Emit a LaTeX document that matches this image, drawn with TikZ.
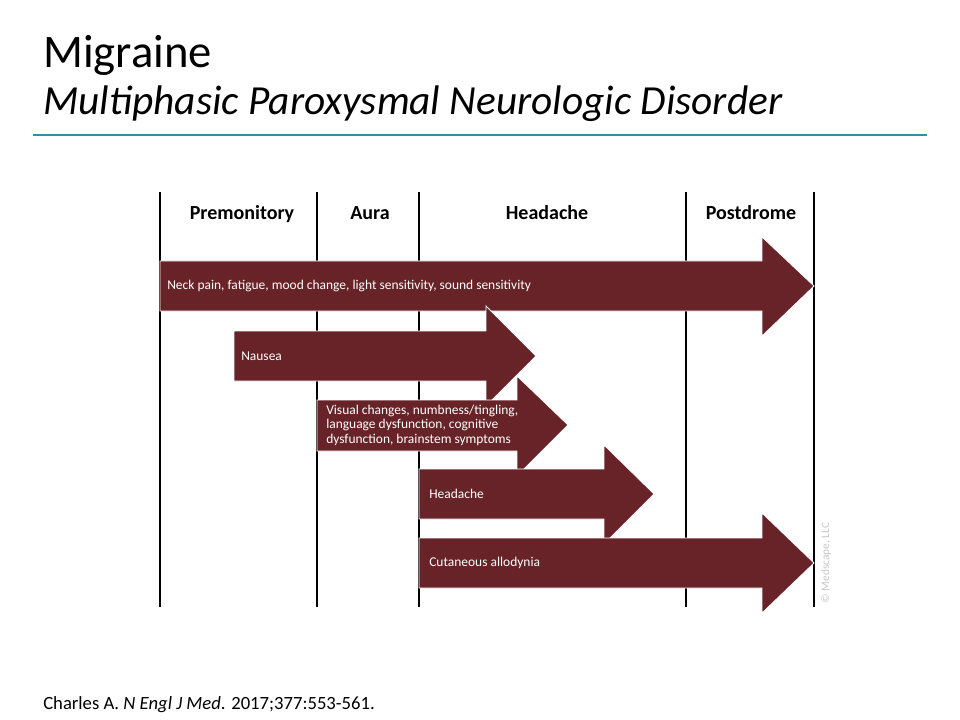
\documentclass[tikz,border=0pt]{standalone}
\usepackage{fontspec}
\setmainfont{Carlito}
\definecolor{maroon}{RGB}{103,35,39}
\definecolor{teal}{RGB}{56,142,160}
\tikzset{
  phasearrow/.style={fill=maroon,draw=white,line width=0.6pt},
  phaseline/.style={black,line width=1.4pt},
  phasehead/.style={anchor=base,inner sep=0pt,font=\bfseries\fontsize{15}{17}\selectfont},
  arrowtext/.style={white,anchor=west,inner sep=0pt,font=\fontsize{10.1}{10.9}\selectfont}
}
\begin{document}
\begin{tikzpicture}[x=0.75pt, y=-0.75pt]
\useasboundingbox (0,0) rectangle (960,720);

% Title
\node[anchor=base west,inner sep=0pt,font=\fontsize{35}{38}\selectfont] (title) at (43,68) {Migraine};
\node[anchor=base west,inner sep=0pt,font=\itshape\fontsize{31}{34}\selectfont] (subtitle) at (43,115) {Multiphasic Paroxysmal Neurologic Disorder};
\draw[teal,line width=1.5pt] (33,135) -- (927,135);

% Phase lines
\foreach \x in {160,317,419,686,814}
  \draw[phaseline] (\x,192) -- (\x,607);

% Phase names
\node[phasehead] (premonitory) at (242,220) {Premonitory};
\node[phasehead] (aura) at (370,220) {Aura};
\node[phasehead] (headache) at (547,220) {Headache};
\node[phasehead] (postdrome) at (751,220) {Postdrome};

% Arrows
\draw[phasearrow] (160,261) -- (762,261) -- (762,237) -- (814,286) -- (762,336) -- (762,311) -- (160,311) -- cycle;
\node[arrowtext] (neck) at (167,286) {Neck pain, fatigue, mood change, light sensitivity, sound sensitivity};

\draw[phasearrow] (234,331) -- (486,331) -- (486,306) -- (536,356) -- (486,406) -- (486,381) -- (234,381) -- cycle;
\node[arrowtext] (nausea) at (241,356) {Nausea};

\draw[phasearrow] (317,400) -- (517,400) -- (517,376) -- (568,425) -- (517,476) -- (517,451) -- (317,451) -- cycle;
\node[arrowtext,align=left] (aurasymptoms) at (326,425) {Visual changes, numbness/tingling,\\language dysfunction, cognitive\\dysfunction, brainstem symptoms};

\draw[phasearrow] (419,469) -- (604,469) -- (604,445) -- (654,494) -- (604,544) -- (604,519) -- (419,519) -- cycle;
\node[arrowtext] (headpain) at (429,494) {Headache};

\draw[phasearrow] (419,538) -- (762,538) -- (762,513) -- (814,563) -- (762,613) -- (762,588) -- (419,588) -- cycle;
\node[arrowtext] (allodynia) at (429,563) {Cutaneous allodynia};

% Credits
\node[rotate=90,gray!45,inner sep=0pt,font=\fontsize{8.5}{9}\selectfont] (copyright) at (826,563) {\textcopyright{} Medscape, LLC};
\node[anchor=base west,inner sep=0pt,font=\fontsize{14}{16}\selectfont] (citation) at (43,709) {Charles A. \textit{N Engl J Med}. 2017;377:553-561.};
\end{tikzpicture}
\end{document}
